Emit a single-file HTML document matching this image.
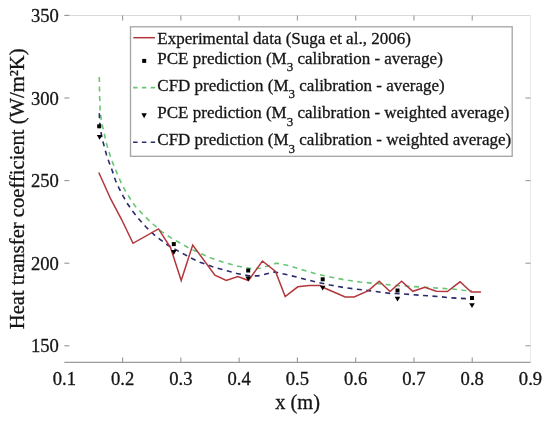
<!DOCTYPE html>
<html><head><meta charset="utf-8"><style>
html,body{margin:0;padding:0;background:#fff;width:550px;height:422px;overflow:hidden}
svg{display:block;filter:blur(0.3px)}
text{font-family:'Liberation Serif','Times New Roman',serif;fill:#151515;stroke:#151515;stroke-width:0.3px}
</style></head><body>
<svg width="550" height="422" viewBox="0 0 550 422">
<line x1="64.33" y1="15.5" x2="530.5" y2="15.5" stroke="#dadada" stroke-width="1.2"/>
<line x1="530.5" y1="15.5" x2="530.5" y2="362.4" stroke="#ececec" stroke-width="1.2"/>
<line x1="64.33" y1="362.4" x2="530.5" y2="362.4" stroke="#9c9c9c" stroke-width="1.3"/>
<text x="64.33" y="385.4" text-anchor="middle" font-size="18.6">0.1</text>
<line x1="122.60" y1="362.4" x2="122.60" y2="357.4" stroke="#969696" stroke-width="1.1"/>
<line x1="122.60" y1="15.5" x2="122.60" y2="20.5" stroke="#9a9a9a" stroke-width="1.1"/>
<text x="122.60" y="385.4" text-anchor="middle" font-size="18.6">0.2</text>
<line x1="180.87" y1="362.4" x2="180.87" y2="357.4" stroke="#969696" stroke-width="1.1"/>
<line x1="180.87" y1="15.5" x2="180.87" y2="20.5" stroke="#9a9a9a" stroke-width="1.1"/>
<text x="180.87" y="385.4" text-anchor="middle" font-size="18.6">0.3</text>
<line x1="239.14" y1="362.4" x2="239.14" y2="357.4" stroke="#969696" stroke-width="1.1"/>
<line x1="239.14" y1="15.5" x2="239.14" y2="20.5" stroke="#9a9a9a" stroke-width="1.1"/>
<text x="239.14" y="385.4" text-anchor="middle" font-size="18.6">0.4</text>
<line x1="297.41" y1="362.4" x2="297.41" y2="357.4" stroke="#969696" stroke-width="1.1"/>
<line x1="297.41" y1="15.5" x2="297.41" y2="20.5" stroke="#9a9a9a" stroke-width="1.1"/>
<text x="297.41" y="385.4" text-anchor="middle" font-size="18.6">0.5</text>
<line x1="355.68" y1="362.4" x2="355.68" y2="357.4" stroke="#969696" stroke-width="1.1"/>
<line x1="355.68" y1="15.5" x2="355.68" y2="20.5" stroke="#9a9a9a" stroke-width="1.1"/>
<text x="355.68" y="385.4" text-anchor="middle" font-size="18.6">0.6</text>
<line x1="413.95" y1="362.4" x2="413.95" y2="357.4" stroke="#969696" stroke-width="1.1"/>
<line x1="413.95" y1="15.5" x2="413.95" y2="20.5" stroke="#9a9a9a" stroke-width="1.1"/>
<text x="413.95" y="385.4" text-anchor="middle" font-size="18.6">0.7</text>
<line x1="472.22" y1="362.4" x2="472.22" y2="357.4" stroke="#969696" stroke-width="1.1"/>
<line x1="472.22" y1="15.5" x2="472.22" y2="20.5" stroke="#9a9a9a" stroke-width="1.1"/>
<text x="472.22" y="385.4" text-anchor="middle" font-size="18.6">0.8</text>
<text x="530.49" y="385.4" text-anchor="middle" font-size="18.6">0.9</text>
<line x1="64.33" y1="345.80" x2="69.33" y2="345.80" stroke="#969696" stroke-width="1.1"/>
<line x1="530.5" y1="345.80" x2="525.5" y2="345.80" stroke="#9a9a9a" stroke-width="1.1"/>
<text x="58.8" y="352.40" text-anchor="end" font-size="18.6">150</text>
<line x1="64.33" y1="263.20" x2="69.33" y2="263.20" stroke="#969696" stroke-width="1.1"/>
<line x1="530.5" y1="263.20" x2="525.5" y2="263.20" stroke="#9a9a9a" stroke-width="1.1"/>
<text x="58.8" y="269.80" text-anchor="end" font-size="18.6">200</text>
<line x1="64.33" y1="180.60" x2="69.33" y2="180.60" stroke="#969696" stroke-width="1.1"/>
<line x1="530.5" y1="180.60" x2="525.5" y2="180.60" stroke="#9a9a9a" stroke-width="1.1"/>
<text x="58.8" y="187.20" text-anchor="end" font-size="18.6">250</text>
<line x1="64.33" y1="98.00" x2="69.33" y2="98.00" stroke="#969696" stroke-width="1.1"/>
<line x1="530.5" y1="98.00" x2="525.5" y2="98.00" stroke="#9a9a9a" stroke-width="1.1"/>
<text x="58.8" y="104.60" text-anchor="end" font-size="18.6">300</text>
<line x1="64.33" y1="15.40" x2="69.33" y2="15.40" stroke="#969696" stroke-width="1.1"/>
<text x="58.8" y="22.00" text-anchor="end" font-size="18.6">350</text>
<text x="297.6" y="409" text-anchor="middle" font-size="20.4">x (m)</text>
<text transform="translate(24.4,188.8) rotate(-90)" text-anchor="middle" font-size="20.6">Heat transfer coefficient (W/m²K)</text>
<polyline points="99.3,77.0 99.6,95.0 100.1,110.0 101.2,120.0 102.7,127.0 104.2,133.2 106.0,141.7 108.5,150.3 111.0,158.4 114.0,166.0 117.5,174.5 121.4,183.3 125.6,191.4 130.4,199.0 135.1,206.1 141.3,212.7 147.4,218.9 154.0,225.0 161.3,231.3 168.5,236.3 176.9,241.2 188.0,247.5 200.0,253.2 211.0,258.0 223.6,262.3 237.0,266.0 250.9,268.6 260.0,268.3 268.0,266.0 276.4,263.2 289.7,265.8 298.2,268.6 314.9,273.5 330.0,277.0 345.0,279.9 360.0,282.0 375.6,283.5 396.9,285.6 409.2,286.3 425.0,287.3 442.8,288.4 454.7,289.2 462.8,290.2 472.0,291.0" fill="none" stroke="#66c674" stroke-width="1.6" stroke-dasharray="5 4.5"/>
<polyline points="99.3,113.3 99.7,122.0 100.3,128.0 100.7,130.7 102.1,138.5 104.2,146.3 106.4,154.5 109.0,162.0 112.0,170.0 115.7,181.0 119.0,188.1 122.8,195.6 127.5,203.7 132.3,210.8 137.5,217.4 146.0,227.0 155.6,236.2 168.4,245.5 180.0,252.0 190.0,257.5 200.0,262.3 212.0,266.5 225.5,270.5 237.0,273.5 249.1,275.9 258.2,275.9 266.0,274.0 274.5,271.9 287.8,274.9 299.1,277.7 317.7,282.4 330.0,285.0 345.0,287.7 368.4,290.6 389.8,293.4 403.5,293.9 420.0,295.2 440.0,296.7 449.0,297.7 467.0,298.7 472.0,299.0" fill="none" stroke="#29296e" stroke-width="1.6" stroke-dasharray="5 4.5"/>
<polyline points="98.8,172.5 110.8,199.2 121.5,219.3 133.0,243.3 158.5,228.9 170.5,247.5 181.2,280.5 192.7,245.0 214.9,275.1 226.3,280.5 237.8,276.5 248.5,280.5 262.4,261.0 275.5,271.4 285.2,296.6 297.8,286.8 309.2,285.6 320.6,285.6 324.5,288.0 345.2,297.0 354.2,297.0 368.4,290.6 379.2,281.3 390.0,291.5 401.6,281.3 412.8,291.3 424.8,287.4 436.2,291.3 447.3,291.5 460.0,281.8 471.2,292.0 481.0,292.1" fill="none" stroke="#b3363b" stroke-width="1.5" stroke-linejoin="miter"/>
<rect x="97.2" y="124.3" width="4" height="4" fill="#000"/>
<rect x="171.8" y="242.1" width="4" height="4" fill="#000"/>
<rect x="246.2" y="268.5" width="4" height="4" fill="#000"/>
<rect x="320.7" y="277.3" width="4" height="4" fill="#000"/>
<rect x="395.5" y="288.5" width="4" height="4" fill="#000"/>
<rect x="470.0" y="296.0" width="4" height="4" fill="#000"/>
<polygon points="96.8,134.9 102.4,134.9 99.6,139.7" fill="#000"/>
<polygon points="171.0,250.1 176.6,250.1 173.8,254.9" fill="#000"/>
<polygon points="245.4,276.5 251.0,276.5 248.2,281.3" fill="#000"/>
<polygon points="319.9,285.7 325.5,285.7 322.7,290.5" fill="#000"/>
<polygon points="394.7,296.7 400.3,296.7 397.5,301.5" fill="#000"/>
<polygon points="469.2,303.2 474.8,303.2 472.0,308.0" fill="#000"/>
<rect x="130.5" y="26.8" width="381.7" height="129.5" fill="#fff" stroke="#a4a4a4" stroke-width="1.3"/>
<line x1="133.3" y1="37.7" x2="155" y2="37.7" stroke="#b3363b" stroke-width="1.5"/>
<rect x="142.2" y="58.9" width="4" height="4" fill="#000"/>
<line x1="133.1" y1="87.6" x2="155.5" y2="87.6" stroke="#66c674" stroke-width="1.6" stroke-dasharray="4.4 4.4"/>
<polygon points="141.4,113.3 146.8,113.3 144.1,118.2" fill="#000"/>
<line x1="133.1" y1="142.3" x2="155.5" y2="142.3" stroke="#29296e" stroke-width="1.6" stroke-dasharray="4.4 4.4"/>
<text x="157.3" y="44.1" font-size="17">Experimental data (Suga et al., 2006)</text>
<text x="157.3" y="63.6" font-size="17">PCE prediction (M<tspan dy="7.8" font-size="13">3</tspan><tspan dy="-7.8"> calibration - average)</tspan></text>
<text x="157.3" y="90.6" font-size="17">CFD prediction (M<tspan dy="7.8" font-size="13">3</tspan><tspan dy="-7.8"> calibration - average)</tspan></text>
<text x="157.3" y="118.1" font-size="17">PCE prediction (M<tspan dy="7.8" font-size="13">3</tspan><tspan dy="-7.8"> calibration - weighted average)</tspan></text>
<text x="157.3" y="144.7" font-size="17">CFD prediction (M<tspan dy="7.8" font-size="13">3</tspan><tspan dy="-7.8"> calibration - weighted average)</tspan></text>
</svg>
</body></html>
